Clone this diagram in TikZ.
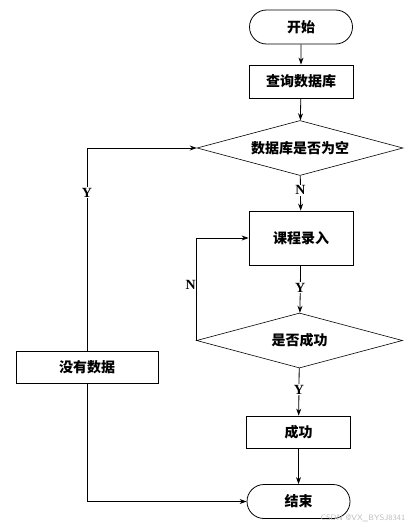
\documentclass[tikz,border=0pt]{standalone}
\usepackage{fontspec}
\setmainfont{Liberation Serif}
\newfontfamily\cjk{Noto Sans CJK SC}
\usetikzlibrary{arrows.meta}
\usetikzlibrary{positioning, shapes.geometric, shapes.misc}

\begin{document}
\begin{tikzpicture}[x=1pt, y=-1pt]
    \useasboundingbox (0,0) rectangle (416,530);

    % Add or remove nodes here, use the tuple for location
    \begin{scope}[every node/.style={draw=black, line width=0.8pt, inner sep=0pt,
                  font=\cjk\bfseries\fontsize{14}{16}\selectfont},
              terminal/.style={rounded rectangle, minimum width=103pt, minimum height=34pt},
              stepbox/.style={rectangle, minimum width=104pt},
              check/.style={diamond, aspect=3.75, minimum width=206pt, minimum height=55pt, line width=0.6pt}]
    \node[terminal] (start) at (301,27) {开始};
    \node[stepbox, minimum height=33pt] (query) at (301,81.5) {查询数据库};
    \node[check] (isempty) at (300,148) {数据库是否为空};
    \node[stepbox, minimum height=54pt] (course) at (301,238) {课程录入};
    \node[check] (ok) at (299.5,340.5) {是否成功};
    \node[stepbox, minimum height=32pt] (success) at (298.5,432) {成功};
    \node[terminal] (end) at (298.5,501.5) {结束};
    \node[stepbox, minimum width=142pt, minimum height=32pt] (nodata) at (87,367) {没有数据};
    \end{scope}

    % forward(black)
    % Remove or add new edges here
    \begin{scope}[>={Stealth[length=7pt, width=5pt]},
              every edge/.style={draw=black, line width=0.8pt},
              every node/.style={font=\bfseries\fontsize{14}{16}\selectfont, fill=white, inner sep=1pt}]
    \path [->] (start) edge (query);
    \path [->] (query) edge (isempty);
    \path [->] (isempty) edge node[pos=0.42] {N} (course);
    \path [->] (course) edge node[pos=0.47] {Y} (ok);
    \path [->] (ok) edge node[pos=0.45] {Y} (success);
    \path [->] (success) edge (end);
    \draw [->, line width=0.8pt] (nodata) |- node[pos=0.39] {Y} (isempty.west);
    \draw [->, line width=0.8pt] (ok.west) |- node[pos=0.27, left, fill=none, inner sep=0pt] {N} (course.west);
    \draw [->, line width=0.8pt] (nodata) |- (end.west);
    \end{scope}

    \node[text=black!25, font=\sffamily\fontsize{8}{9}\selectfont, inner sep=0pt] (mark) at (363,518) {CSDN @VX\_BYSJ8341};

\end{tikzpicture}
\end{document}
